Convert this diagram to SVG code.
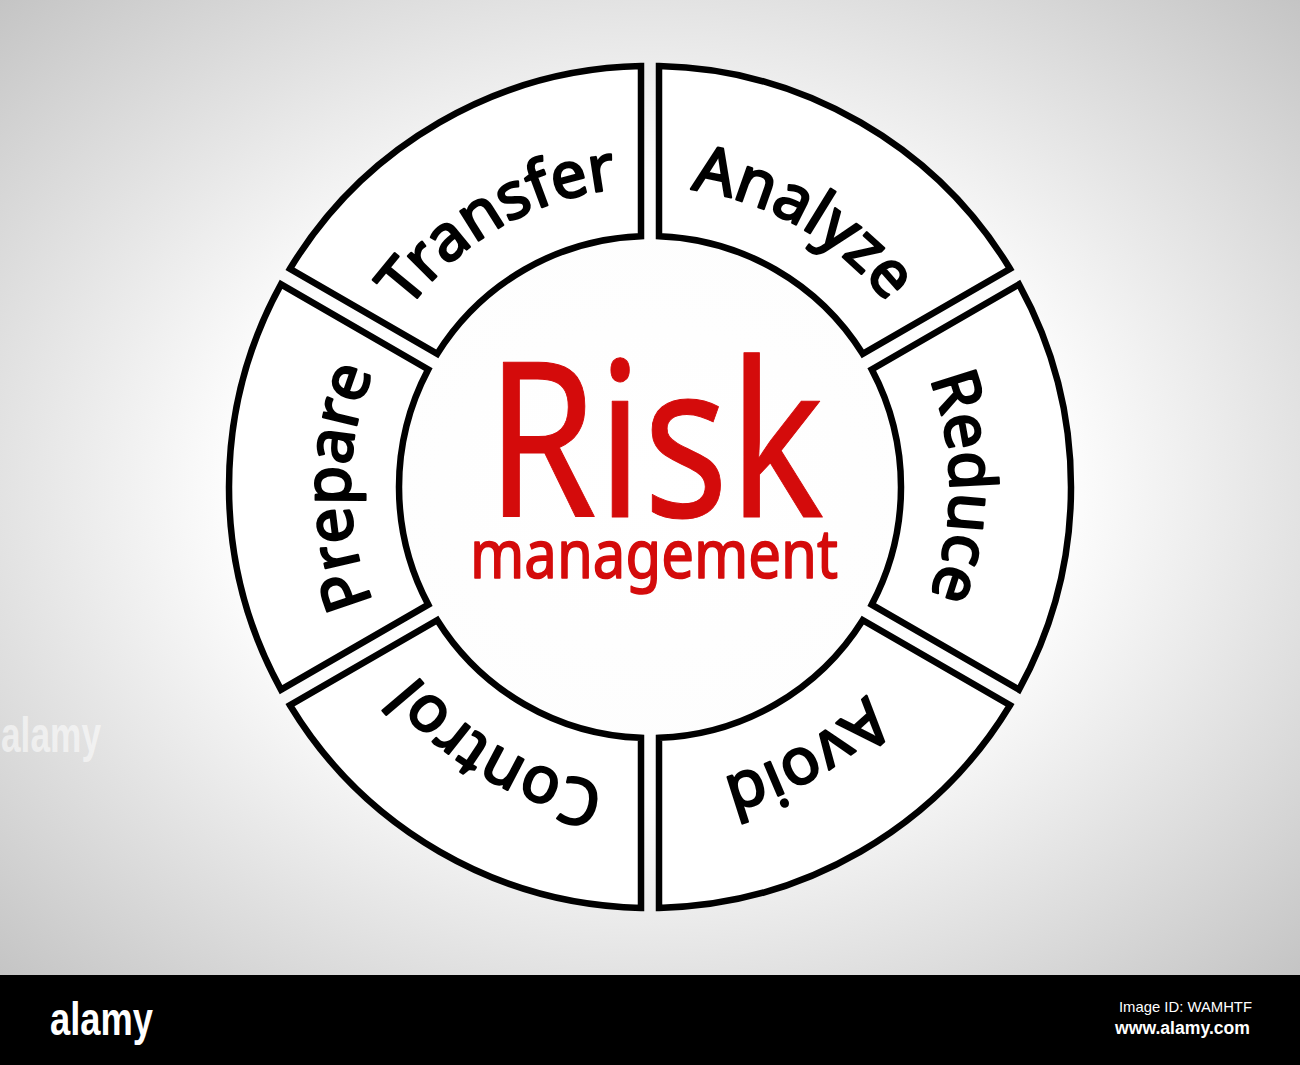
<svg xmlns="http://www.w3.org/2000/svg" width="1300" height="1065" viewBox="0 0 1300 1065">
  <defs>
    <radialGradient id="bg" cx="0.5" cy="0.5" r="0.71">
      <stop offset="0" stop-color="#ffffff"/>
      <stop offset="0.45" stop-color="#fdfdfd"/>
      <stop offset="0.7" stop-color="#e3e3e3"/>
      <stop offset="1" stop-color="#c4c4c4"/>
    </radialGradient>
    <path id="tp-transfer" d="M368.09,384.39 A300,300 0 0 1 702.09,191.56"/>
    <path id="tp-analyze" d="M597.91,191.56 A300,300 0 0 1 931.91,384.39"/>
    <path id="tp-reduce" d="M879.81,294.16 A300,300 0 0 1 879.81,679.84"/>
    <path id="tp-avoid" d="M931.91,589.61 A300,300 0 0 1 597.91,782.44"/>
    <path id="tp-control" d="M702.09,782.44 A300,300 0 0 1 368.09,589.61"/>
    <path id="tp-prepare" d="M420.19,679.84 A300,300 0 0 1 420.19,294.16"/>
  </defs>
  <style>
    .seg { fill: #ffffff; stroke: #000000; stroke-width: 6.5; stroke-linejoin: miter; }
    .lbl { font-family: "Noto Sans", "DejaVu Sans", sans-serif; font-size: 64px; fill: #000000; stroke: #000000; stroke-width: 2.4; stroke-linejoin: round; }
    .red { font-family: "Noto Sans", "DejaVu Sans", sans-serif; fill: #d40b0b; stroke: #d40b0b; stroke-linejoin: round; }
    .band { font-family: "Liberation Sans", Arial, sans-serif; font-weight: bold; fill: #ffffff; }
  </style>

  <rect x="0" y="0" width="1300" height="975" fill="url(#bg)"/>
  <text class="band" x="1" y="752" font-size="50" textLength="100" lengthAdjust="spacingAndGlyphs" fill-opacity="0.55">alamy</text>

  <g id="connectors"/>

  <g id="node-transfer">
    <path class="seg" d="M641,66.1 A421,421 0 0 0 289.99,268.75 L437.27,353.79 A251,251 0 0 1 641,236.16 Z"/>
    <text class="lbl" text-anchor="middle"><textPath href="#tp-transfer" startOffset="50%">Transfer</textPath></text>
  </g>
  <g id="node-analyze">
    <path class="seg" d="M1010.01,268.75 A421,421 0 0 0 659,66.1 L659,236.16 A251,251 0 0 1 862.73,353.79 Z"/>
    <text class="lbl" text-anchor="middle"><textPath href="#tp-analyze" startOffset="50%">Analyze</textPath></text>
  </g>
  <g id="node-reduce">
    <path class="seg" d="M1019.01,689.66 A421,421 0 0 0 1019.01,284.34 L871.73,369.38 A251,251 0 0 1 871.73,604.63 Z"/>
    <text class="lbl" text-anchor="middle"><textPath href="#tp-reduce" startOffset="50%">Reduce</textPath></text>
  </g>
  <g id="node-avoid">
    <path class="seg" d="M659,907.9 A421,421 0 0 0 1010.01,705.25 L862.73,620.21 A251,251 0 0 1 659,737.84 Z"/>
    <text class="lbl" text-anchor="middle"><textPath href="#tp-avoid" startOffset="50%">Avoid</textPath></text>
  </g>
  <g id="node-control">
    <path class="seg" d="M289.99,705.25 A421,421 0 0 0 641,907.9 L641,737.84 A251,251 0 0 1 437.27,620.21 Z"/>
    <text class="lbl" text-anchor="middle"><textPath href="#tp-control" startOffset="50%">Control</textPath></text>
  </g>
  <g id="node-prepare">
    <path class="seg" d="M280.99,284.34 A421,421 0 0 0 280.99,689.66 L428.27,604.63 A251,251 0 0 1 428.27,369.38 Z"/>
    <text class="lbl" text-anchor="middle"><textPath href="#tp-prepare" startOffset="50%">Prepare</textPath></text>
  </g>

  <g id="node-center">
    <text class="red" x="486" y="517" font-size="215" stroke-width="1" textLength="338" lengthAdjust="spacingAndGlyphs">Risk</text>
    <text class="red" x="470" y="578" font-size="67" stroke-width="1.6" textLength="368" lengthAdjust="spacingAndGlyphs">management</text>
  </g>

  <g id="watermark-band">
    <rect x="0" y="975" width="1300" height="90" fill="#000000"/>
    <text class="band" x="50" y="1035" font-size="47" textLength="103" lengthAdjust="spacingAndGlyphs">alamy</text>
    <text class="band" x="1119" y="1012" font-size="15" fill="#e6e6e6" textLength="133" lengthAdjust="spacingAndGlyphs" style="font-weight:normal">Image ID: WAMHTF</text>
    <text class="band" x="1115" y="1034" font-size="18" textLength="135" lengthAdjust="spacingAndGlyphs">www.alamy.com</text>
  </g>
</svg>
